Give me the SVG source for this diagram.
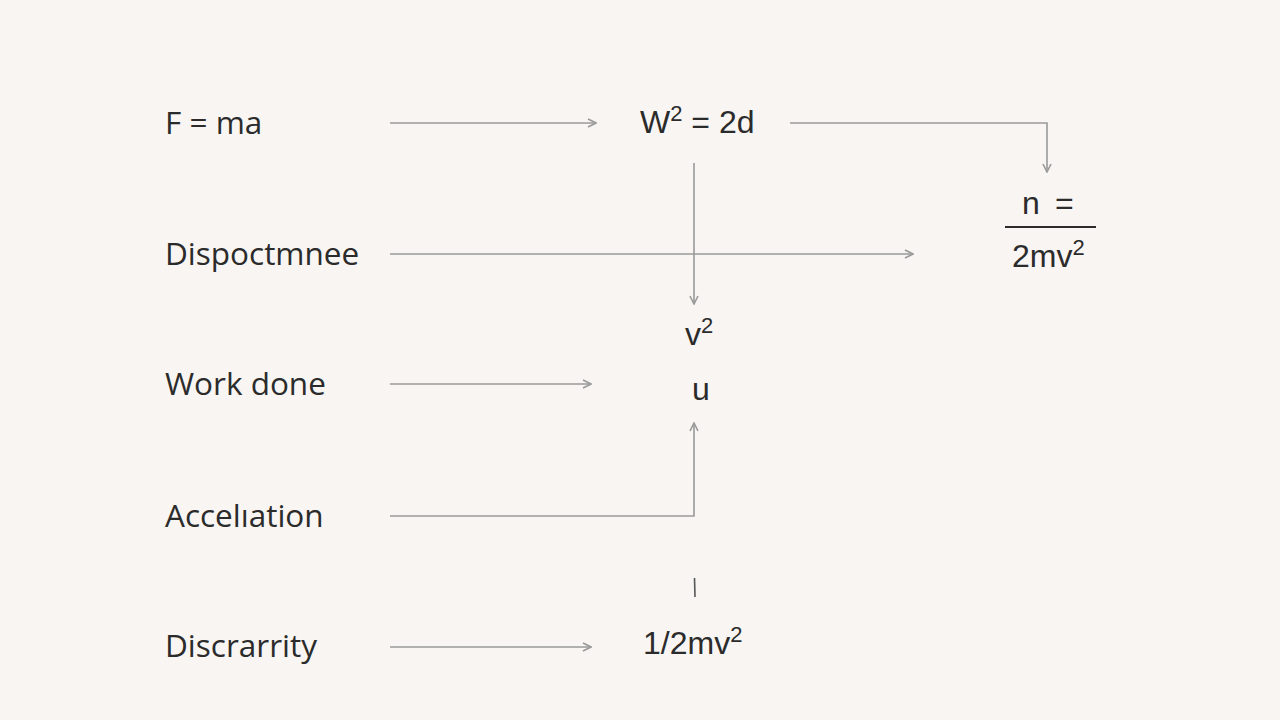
<svg xmlns="http://www.w3.org/2000/svg" width="1280" height="720" viewBox="0 0 1280 720">
<defs>
<style>
.t{font-family:"Open Sans","Liberation Sans",sans-serif;font-size:31.5px;fill:#2b2b2b}
.m{font-family:"Liberation Sans","Open Sans",sans-serif;font-size:32px;fill:#2b2b2b}
.sup{font-size:22px}
.c{fill:none;stroke:#9a9a9a;stroke-width:1.6}
</style>
<marker id="ah" viewBox="0 0 10 10" refX="9" refY="5" markerWidth="10" markerHeight="10" markerUnits="userSpaceOnUse" orient="auto">
<path d="M1,1 L9,5 L1,9" fill="none" stroke="#9a9a9a" stroke-width="1.6"/>
</marker>
</defs>
<rect width="1280" height="720" fill="#f8f5f2"/>
<g id="connectors">
<line class="c" x1="390" y1="123" x2="596" y2="123" marker-end="url(#ah)"/>
<polyline class="c" points="790,123 1047,123 1047,172" marker-end="url(#ah)"/>
<line class="c" x1="390" y1="254" x2="913" y2="254" marker-end="url(#ah)"/>
<line class="c" x1="694" y1="163" x2="694" y2="304" marker-end="url(#ah)"/>
<line class="c" x1="390" y1="384" x2="591" y2="384" marker-end="url(#ah)"/>
<polyline class="c" points="390,516 694,516 694,423" marker-end="url(#ah)"/>
<line x1="694.5" y1="578" x2="695" y2="597" stroke="#555" stroke-width="1.6"/>
<line class="c" x1="390" y1="647" x2="591" y2="647" marker-end="url(#ah)"/>
</g>
<g id="n-fma"><text class="t" x="165" y="134">F = ma</text></g>
<g id="n-disp"><text class="t" x="165" y="265">Dispoctmnee</text></g>
<g id="n-work"><text class="t" x="165" y="395">Work done</text></g>
<g id="n-acc"><text class="t" x="165" y="527">Accelıation</text></g>
<g id="n-disc"><text class="t" x="165" y="657">Discrarrity</text></g>
<g id="n-w2"><text class="m" x="640" y="133">W<tspan class="sup" dy="-12">2</tspan><tspan dy="12"> = 2d</tspan></text></g>
<g id="n-frac">
<text class="m" x="1022" y="214">n</text>
<text class="m" x="1055" y="214">=</text>
<line x1="1005" y1="227" x2="1096" y2="227" stroke="#2b2b2b" stroke-width="2"/>
<text class="m" x="1012" y="267">2mv<tspan class="sup" dy="-12">2</tspan></text>
</g>
<g id="n-v2"><text class="m" x="685" y="345">v<tspan class="sup" dy="-12">2</tspan></text></g>
<g id="n-u"><text class="m" x="692" y="400">u</text></g>
<g id="n-ke"><text class="m" x="643" y="654">1/2mv<tspan class="sup" dy="-12">2</tspan></text></g>
</svg>
